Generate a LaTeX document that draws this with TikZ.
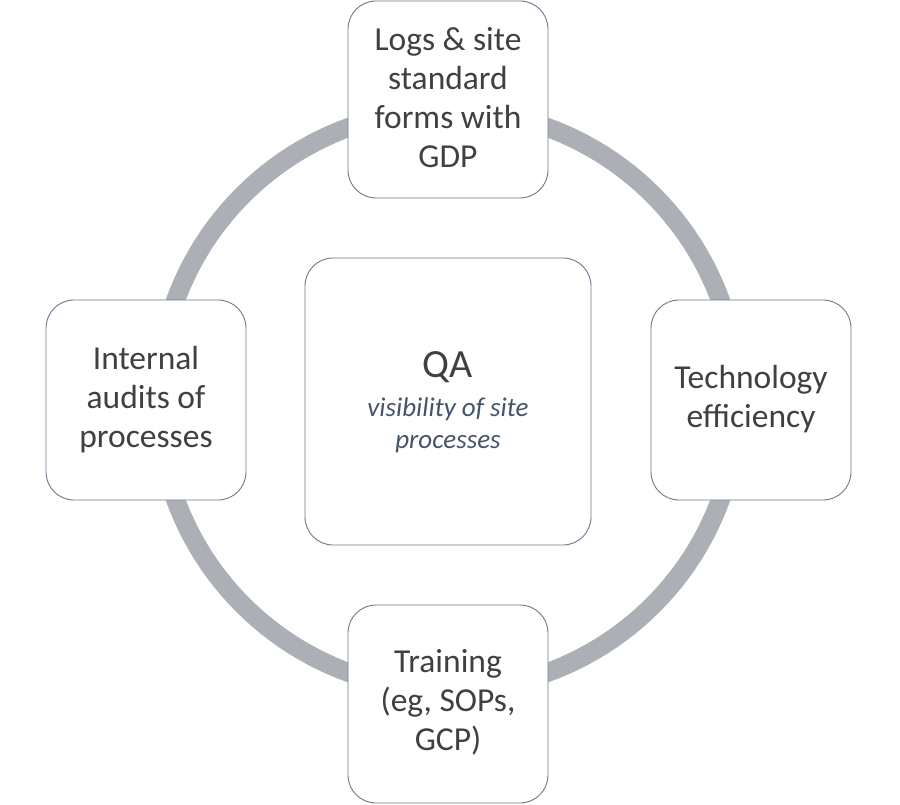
\documentclass[tikz,border=0pt]{standalone}
\usepackage{fontspec}
\setmainfont{Carlito}
\definecolor{ring}{RGB}{172,175,182}
\definecolor{edge}{RGB}{110,120,140}
\definecolor{txt}{RGB}{64,64,64}
\definecolor{itx}{RGB}{68,84,106}
\begin{document}
\begin{tikzpicture}[x=1pt,y=-1pt,
  box/.style={draw=edge,line width=0.9pt,fill=white,rounded corners=28pt},
  lbl/.style={text=txt,align=center,font=\fontsize{33.5}{39}\selectfont}]
\useasboundingbox (0,0) rectangle (900,805);
\draw[ring,line width=19pt] (448,400) circle (290);
\draw[box] (348,1) rectangle (548,198);
\draw[box] (46,300) rectangle (246,500);
\draw[box] (651,300) rectangle (851,500);
\draw[box] (348,605) rectangle (548,803);
\draw[box] (305,258) rectangle (591,545);
\node[lbl] (top) at (448,98) {Logs \& site\\standard\\forms with\\GDP};
\node[lbl] (left) at (146,400) {Internal\\audits of\\processes};
\node[lbl] (right) at (751,399) {Technology\\efficiency};
\node[lbl] (bot) at (448,702) {Training\\(eg, SOPs,\\GCP)};
\node[lbl,font=\fontsize{40}{40}\selectfont] (qa) at (448,367) {QA};
\node[text=itx,align=center,font=\fontsize{27}{32}\selectfont\itshape] (vis) at (448,425) {visibility of site\\processes};
\end{tikzpicture}
\end{document}
